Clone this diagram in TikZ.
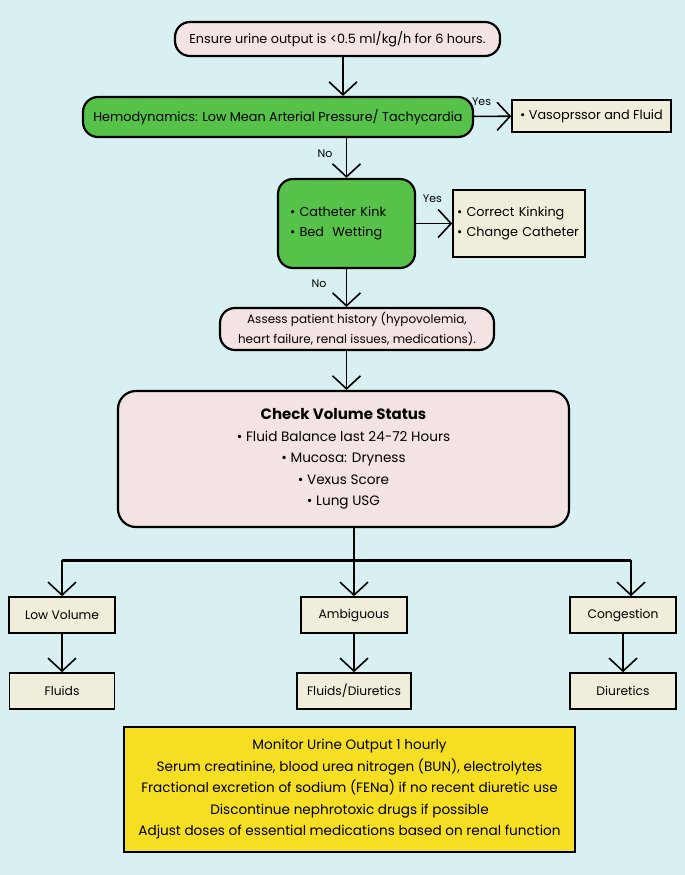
\documentclass[tikz,border=0pt]{standalone}
\usepackage{fontspec}
\setmainfont{Poppins}
\usetikzlibrary{positioning,arrows.meta}
\definecolor{bgcyan}{RGB}{216,240,241}
\definecolor{notepink}{RGB}{243,228,227}
\definecolor{checkgreen}{RGB}{86,194,74}
\definecolor{actcream}{RGB}{240,237,218}
\definecolor{monyellow}{RGB}{246,223,34}

\begin{document}
\begin{tikzpicture}[x=1pt, y=-1pt, font=\fontsize{12.8}{20}\selectfont,
  >={Straight Barb[length=13pt,width=28pt]},
  flow/.style={->, line width=1.6pt},
  pill/.style={draw, line width=2.2pt, fill=notepink, rounded corners=15pt, inner sep=0pt, align=center},
  greenbox/.style={draw, line width=2.2pt, fill=checkgreen, rounded corners=15pt, inner sep=0pt},
  actbox/.style={draw, line width=1.6pt, fill=actcream, inner sep=0pt, align=center},
  answer/.style={font=\fontsize{11}{12}\selectfont}]
  % background and frame
  \fill[bgcyan] (0,0) rectangle (685,875);
  \useasboundingbox (0,0) rectangle (685,875);
  % first checks
  \node[pill, minimum width=325pt, minimum height=34pt] (start) at (337.5,39)
     {Ensure urine output is <0.5 ml/kg/h for 6 hours.};
  \node[greenbox, minimum width=390pt, minimum height=40pt] (hemo) at (278,117)
     {Hemodynamics: Low Mean Arterial Pressure/ Tachycardia};
  \node[actbox, minimum width=159pt, minimum height=32pt] (vaso) at (591.5,116)
     {\textbullet\ Vasoprssor and Fluid};
  \node[greenbox, minimum width=137pt, minimum height=89pt, text width=113pt,
     inner xsep=12pt, align=left] (cath) at (346.5,223.5)
     {\textbullet\ Catheter Kink\\\textbullet\ Bed\ \ Wetting};
  \node[actbox, minimum width=132pt, minimum height=67pt, text width=124pt,
     inner xsep=4pt, align=left] (fix) at (519,223.5)
     {\textbullet\ Correct Kinking\\\textbullet\ Change Catheter};
  \node[pill, minimum width=274pt, minimum height=42pt,
     font=\fontsize{12}{20}\selectfont] (assess) at (357,329)
     {Assess patient history (hypovolemia,\\heart failure, renal issues, medications).};
  % volume status
  \node[pill, rounded corners=18pt, minimum width=451pt, minimum height=136pt,
     font=\fontsize{13.6}{21.5}\selectfont] (volume) at (343.5,459)
     {{\fontsize{15}{21.5}\selectfont\bfseries Check Volume Status}\\
      \textbullet\ Fluid Balance last 24-72 Hours\\
      \textbullet\ Mucosa: Dryness\\
      \textbullet\ Vexus Score\\
      \textbullet\ Lung USG};
  % three branches
  \foreach \n/\x/\top/\bot/\wb in {low/62/Low Volume/Fluids/105,
      ambig/354/Ambiguous/Fluids\slash Diuretics/114,
      cong/623/Congestion/Diuretics/106}{
     \node[actbox, minimum width=106pt, minimum height=36pt,
        font=\fontsize{12.3}{14}\selectfont] (\n) at (\x,615) {\top};
     \node[actbox, minimum width=\wb pt, minimum height=36pt,
        font=\fontsize{12.3}{14}\selectfont] (\n treat) at (\x,691) {\bot};
     \draw[flow] (\n) -- (\n treat);
  }
  \node[actbox, fill=monyellow, minimum width=451pt, minimum height=125pt,
     font=\fontsize{13.6}{21.5}\selectfont] (monitor) at (349.5,789.5)
     {Monitor Urine Output 1 hourly\\
      Serum creatinine, blood urea nitrogen (BUN), electrolytes\\
      Fractional excretion of sodium (FENa) if no recent diuretic use\\
      Discontinue nephrotoxic drugs if possible\\
      Adjust doses of essential medications based on renal function};
  % connectors
  \draw[flow] ([xshift=5.5pt]start.south) -- ([xshift=65pt]hemo.north);
  \draw[flow] (hemo) -- (vaso) node[answer, pos=0.2, above=7pt] {Yes};
  \draw[flow] (hemo.south -| cath.north) -- (cath.north)
     node[answer, pos=0.4, left=10pt] {No};
  \draw[flow] (cath) -- (fix) node[answer, pos=0.45, above=17pt] {Yes};
  \draw[flow] (cath.south) -- (assess.north -| cath.south)
     node[answer, pos=0.38, left=16pt] {No};
  \draw[flow] (assess.south -| cath.south) -- (volume.north -| cath.south);
  \coordinate (hub) at (354,560);
  \coordinate (hubleft) at (62,560);
  \coordinate (hubright) at (631,560);
  \draw[line width=1.6pt] (volume.south -| hub) -- (hub);
  \draw[line width=3pt] (hubleft) -- (hubright);
  \draw[flow] (hubleft) -- (low.north);
  \draw[flow] (hub) -- (ambig.north);
  \draw[flow] (hubright) -- (cong.north -| hubright);
\end{tikzpicture}
\end{document}
